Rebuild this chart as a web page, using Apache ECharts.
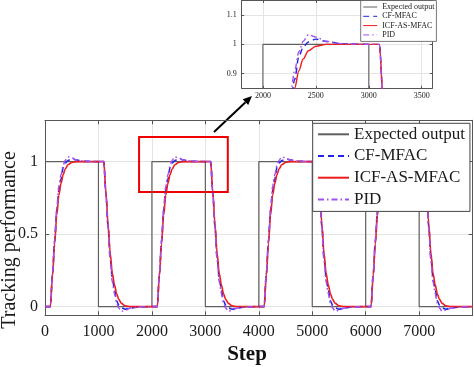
<!DOCTYPE html>
<html>
<head>
<meta charset="utf-8">
<script src="https://cdn.jsdelivr.net/npm/echarts@6/dist/echarts.min.js"></script>
<style>html,body{margin:0;padding:0;background:#fff;}#c{width:474px;height:367px;}</style>
</head>
<body>
<div id="c"></div>
<script>
// ---------- data ----------
const SERIES_NAMES = ['Expected output', 'CF-MFAC', 'ICF-AS-MFAC', 'PID'];

const EXPECTED_STEPS = [0, 1000, 2000, 3000, 4000, 5000, 6000, 7000, 8000];
const EXPECTED = [1, 0, 1, 0, 1, 0, 1, 0, 0];

const STEPS = [
  [0,100,140,180,220,260,300,340,380,430,500,600,750],
  [1000,1100,1140,1180,1220,1260,1300,1340,1380,1430,1500,1600,1750],
  [2000,2100,2140,2180,2220,2260,2300,2340,2380,2430,2500,2600,2750],
  [3000,3100,3140,3180,3220,3260,3300,3340,3380,3430,3500,3600,3750],
  [4000,4100,4140,4180,4220,4260,4300,4340,4380,4430,4500,4600,4750],
  [5000,5100,5140,5180,5220,5260,5300,5340,5380,5430,5500,5600,5750],
  [6000,6100,6140,6180,6220,6260,6300,6340,6380,6430,6500,6600,6750],
  [7000,7100,7140,7180,7220,7260,7300,7340,7380,7430,7500,7600,7750],
  [8000]
];

const CF_MFAC = [
  [0,0,0.22,0.45,0.66,0.80,0.88,0.96,0.99,1.008,1.018,1.01,1.002],
  [1,1,0.78,0.55,0.34,0.20,0.12,0.04,0.01,-0.008,-0.018,-0.01,-0.002],
  [0,0,0.22,0.45,0.66,0.80,0.88,0.96,0.99,1.008,1.018,1.01,1.002],
  [1,1,0.78,0.55,0.34,0.20,0.12,0.04,0.01,-0.008,-0.018,-0.01,-0.002],
  [0,0,0.22,0.45,0.66,0.80,0.88,0.96,0.99,1.008,1.018,1.01,1.002],
  [1,1,0.78,0.55,0.34,0.20,0.12,0.04,0.01,-0.008,-0.018,-0.01,-0.002],
  [0,0,0.22,0.45,0.66,0.80,0.88,0.96,0.99,1.008,1.018,1.01,1.002],
  [1,1,0.78,0.55,0.34,0.20,0.12,0.04,0.01,-0.008,-0.018,-0.01,-0.002],
  [0]
];

const ICF_AS_MFAC = [
  [0,0,0.21,0.43,0.63,0.77,0.85,0.91,0.95,0.978,0.994,1.0,1.0],
  [1,1,0.79,0.57,0.37,0.23,0.15,0.09,0.05,0.022,0.006,0,0],
  [0,0,0.21,0.43,0.63,0.77,0.85,0.91,0.95,0.978,0.994,1.0,1.0],
  [1,1,0.79,0.57,0.37,0.23,0.15,0.09,0.05,0.022,0.006,0,0],
  [0,0,0.21,0.43,0.63,0.77,0.85,0.91,0.95,0.978,0.994,1.0,1.0],
  [1,1,0.79,0.57,0.37,0.23,0.15,0.09,0.05,0.022,0.006,0,0],
  [0,0,0.21,0.43,0.63,0.77,0.85,0.91,0.95,0.978,0.994,1.0,1.0],
  [1,1,0.79,0.57,0.37,0.23,0.15,0.09,0.05,0.022,0.006,0,0],
  [0]
];

const PID = [
  [0,0,0.23,0.46,0.68,0.83,0.91,0.975,1.01,1.033,1.025,1.01,1.002],
  [1,1,0.77,0.54,0.32,0.17,0.09,0.025,-0.01,-0.033,-0.025,-0.01,-0.002],
  [0,0,0.23,0.46,0.68,0.83,0.91,0.975,1.01,1.033,1.025,1.01,1.002],
  [1,1,0.77,0.54,0.32,0.17,0.09,0.025,-0.01,-0.033,-0.025,-0.01,-0.002],
  [0,0,0.23,0.46,0.68,0.83,0.91,0.975,1.01,1.033,1.025,1.01,1.002],
  [1,1,0.77,0.54,0.32,0.17,0.09,0.025,-0.01,-0.033,-0.025,-0.01,-0.002],
  [0,0,0.23,0.46,0.68,0.83,0.91,0.975,1.01,1.033,1.025,1.01,1.002],
  [1,1,0.77,0.54,0.32,0.17,0.09,0.025,-0.01,-0.033,-0.025,-0.01,-0.002],
  [0]
];

const MAIN_X_TICKS = [0, 1000, 2000, 3000, 4000, 5000, 6000, 7000];
const MAIN_Y_TICKS = [0, 0.5, 1];
const INSET_X_TICKS = [2000, 2500, 3000, 3500];
const INSET_Y_TICKS = [0.9, 1, 1.1];
const ZOOM_BOX = [[1760, 1.17], [3420, 0.79]];

// ---------- build ----------
function pairs(xsRows, ysRows) {
  const xs = xsRows.flat(), ys = ysRows.flat();
  return xs.map((x, i) => [x, ys[i]]);
}
const expectedData = EXPECTED_STEPS.map((x, i) => [x, EXPECTED[i]]);
const cfData = pairs(STEPS, CF_MFAC);
const icfData = pairs(STEPS, ICF_AS_MFAC);
const pidData = pairs(STEPS, PID);

const FONT = '"Liberation Serif", "Times New Roman", serif';
const AXIS_COLOR = '#555';
const GRID_COLOR = '#e4e4e4';
const COLORS = ['#606060', '#2323e6', '#ee1c1c', '#a050f0'];
const LINE_TYPES = ['solid', [6, 4], 'solid', [6, 3, 1.5, 3]];
const LINE_WIDTHS = [1.2, 1.6, 1.6, 1.5];
const plainNum = function (v) { return String(v); };

function axisDef(grid, pos, min, max, ticks, labelSize, showLabel, showSplit, margin) {
  return {
    type: 'value', gridIndex: grid, position: pos, min: min, max: max,
    axisLine: { show: true, onZero: false, lineStyle: { color: AXIS_COLOR, width: 1 } },
    axisTick: { show: true, inside: true, length: grid === 0 ? 4 : 2.5, customValues: ticks, lineStyle: { color: AXIS_COLOR } },
    axisLabel: { show: showLabel, customValues: ticks, formatter: plainNum, fontFamily: FONT, fontSize: labelSize, color: '#1a1a1a', margin: margin },
    splitLine: { show: showSplit, lineStyle: { color: GRID_COLOR, width: 1 } }
  };
}

const datasets = [expectedData, cfData, icfData, pidData];
const series = [];
[0, 1].forEach(function (g) {
  datasets.forEach(function (d, i) {
    const s = {
      name: SERIES_NAMES[i], type: 'line', data: d,
      xAxisIndex: g === 0 ? 0 : 2, yAxisIndex: g === 0 ? 0 : 2,
      symbol: 'none', clip: true, animation: false,
      smooth: i === 0 ? false : 0.3, smoothMonotone: 'x',
      lineStyle: { color: COLORS[i], type: LINE_TYPES[i], width: g === 0 ? LINE_WIDTHS[i] : LINE_WIDTHS[i] * 0.9 },
      itemStyle: { color: COLORS[i] },
      z: 2 + i
    };
    if (i === 0) s.step = 'end';
    if (g === 0 && i === 0) {
      s.markArea = {
        silent: true,
        itemStyle: { color: 'rgba(0,0,0,0)', borderColor: '#f00000', borderWidth: 2 },
        data: [[{ coord: ZOOM_BOX[0] }, { coord: ZOOM_BOX[1] }]]
      };
    }
    series.push(s);
  });
});

const hiddenSymbol = { color: 'rgba(0,0,0,0)', borderColor: 'rgba(0,0,0,0)', borderWidth: 0, opacity: 0 };

const option = {
  backgroundColor: '#fff',
  animation: false,
  grid: [
    { left: 45, right: 1.4, top: 120.3, bottom: 51.7, show: false },
    { left: 241.7, right: 41.7, top: 0.5, bottom: 278.7, show: true, backgroundColor: '#fff', borderWidth: 0 }
  ],
  xAxis: [
    axisDef(0, 'bottom', 0, 8000, MAIN_X_TICKS, 16, true, true, 8),
    axisDef(0, 'top', 0, 8000, MAIN_X_TICKS, 16, false, false, 8),
    axisDef(1, 'bottom', 1800, 3600, INSET_X_TICKS, 8, true, true, 4),
    axisDef(1, 'top', 1800, 3600, INSET_X_TICKS, 8, false, false, 4)
  ],
  yAxis: [
    axisDef(0, 'left', -0.06, 1.285, MAIN_Y_TICKS, 16, true, true, 7),
    axisDef(0, 'right', -0.06, 1.285, MAIN_Y_TICKS, 16, false, false, 7),
    axisDef(1, 'left', 0.85, 1.15, INSET_Y_TICKS, 8, true, true, 5),
    axisDef(1, 'right', 0.85, 1.15, INSET_Y_TICKS, 8, false, false, 5)
  ],
  legend: [
    {
      data: SERIES_NAMES, orient: 'vertical', left: 312.7, top: 123.3,
      itemWidth: 31, itemHeight: 14, itemGap: 4.7,
      padding: [2.5, 5, 3.5, 4.3],
      itemStyle: hiddenSymbol,
      backgroundColor: '#fff', borderColor: '#444', borderWidth: 1, borderRadius: 0,
      textStyle: { fontFamily: FONT, fontSize: 17, lineHeight: 17, color: '#1a1a1a' },
      selectedMode: false, z: 20
    },
    {
      data: SERIES_NAMES, orient: 'vertical', left: 360.7, top: 0.5,
      itemWidth: 14, itemHeight: 6, itemGap: 0.3,
      padding: [2, 2, 2, 2],
      itemStyle: hiddenSymbol,
      lineStyle: { width: 1 },
      backgroundColor: '#fff', borderColor: '#555', borderWidth: 0.8, borderRadius: 0,
      textStyle: { fontFamily: FONT, fontSize: 8, lineHeight: 9, color: '#1a1a1a' },
      selectedMode: false, z: 20
    }
  ],
  graphic: [
    {
      type: 'text', x: 10, y: 240, rotation: Math.PI / 2,
      style: { text: 'Tracking performance', fontFamily: FONT, fontSize: 20, fill: '#1a1a1a', align: 'center', verticalAlign: 'middle' }
    },
    {
      type: 'text', x: 247, y: 355,
      style: { text: 'Step', fontFamily: FONT, fontSize: 21, fontWeight: 'bold', fill: '#111', align: 'center', verticalAlign: 'middle' }
    },
    {
      type: 'line', shape: { x1: 214, y1: 132, x2: 245.5, y2: 102.2 },
      style: { stroke: '#000', lineWidth: 2 }
    },
    {
      type: 'polygon', shape: { points: [[252, 96], [248.2, 105.1], [242.7, 99.3]] },
      style: { fill: '#000' }
    }
  ],
  series: series
};

const chart = echarts.init(document.getElementById('c'), null, { renderer: 'canvas' });
chart.setOption(option);
</script>
</body>
</html>
